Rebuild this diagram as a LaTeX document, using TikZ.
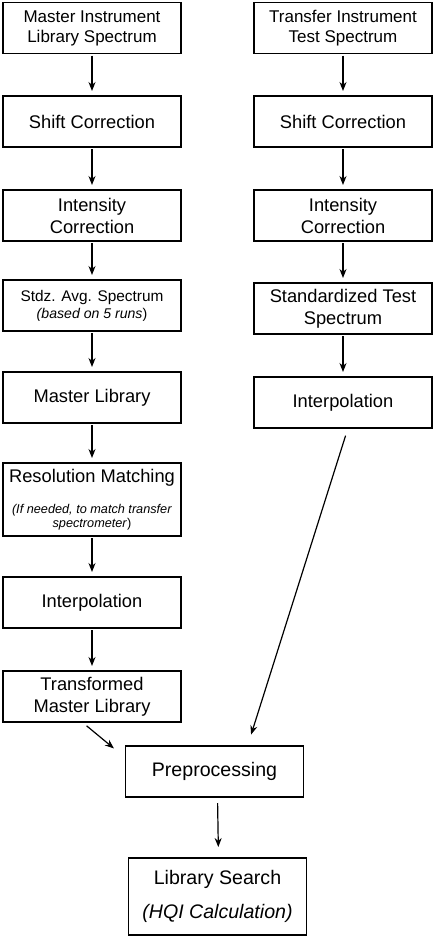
\documentclass[tikz,border=0pt]{standalone}
\usepackage{fontspec}
\setmainfont{Liberation Sans}
\usetikzlibrary{positioning,arrows.meta}

\begin{document}
\begin{tikzpicture}

  % Definitions
  \tikzstyle{Process} = [rectangle, minimum width=178pt, minimum height=51pt, inner sep=2pt, outer sep=0pt, align=center, draw=black, line width=1.1pt, font=\fontsize{18.3pt}{22pt}\selectfont]
  \tikzstyle{arrow} = [line width=1.2pt,-{Stealth[length=9pt,width=7pt]}]

  \useasboundingbox (0,0) rectangle (435pt,-938pt);

  % master side
  \node (MSpec) [Process, font=\fontsize{17pt}{20pt}\selectfont] at (92pt,-28pt) {Master Instrument\\Library Spectrum};
  \node (MShift) [Process, below=42.5pt of MSpec] {Shift Correction};
  \node (MInt) [Process, below=43pt of MShift] {Intensity\\Correction};
  \node (MStdz) [Process, below=39pt of MInt, font=\fontsize{15.4pt}{17pt}\selectfont] {Stdz. Avg. Spectrum\\{\fontsize{14.1pt}{17pt}\selectfont\textit{(based on 5 runs})}};
  \node (MLib) [Process, below=41pt of MStdz] {Master Library};
  \node (MRes) [Process, below=40pt of MLib, minimum height=73pt, font=\fontsize{18.3pt}{14pt}\selectfont] {Resolution Matching\\[17pt]{\fontsize{12.7pt}{14pt}\selectfont\textit{(If needed, to match transfer}}\\{\fontsize{12.7pt}{14pt}\selectfont\textit{spectrometer})}};
  \node (MInterp) [Process, below=41pt of MRes] {Interpolation};
  \node (MTrans) [Process, below=43pt of MInterp] {Transformed\\Master Library};

  % transfer side
  \node (TSpec) [Process, right=73pt of MSpec, font=\fontsize{17pt}{20pt}\selectfont] {Transfer Instrument\\Test Spectrum};
  \node (TShift) [Process, below=42.5pt of TSpec] {Shift Correction};
  \node (TInt) [Process, below=43pt of TShift] {Intensity\\Correction};
  \node (TStd) [Process, below=42pt of TInt] {Standardized Test\\Spectrum};
  \node (TInterp) [Process, below=43pt of TStd] {Interpolation};

  % common part
  \node (Pre) [Process, below=24pt of MTrans, xshift=122.5pt, font=\fontsize{19.6pt}{23pt}\selectfont] {Preprocessing};
  \node (Search) [Process, below=61pt of Pre, xshift=3pt, minimum height=77pt, font=\fontsize{19.6pt}{23pt}\selectfont] {Library Search\\[11pt]\textit{(HQI Calculation)}};

  \draw [arrow, shorten <=2pt, shorten >=5pt] (MSpec) -- (MShift);
  \draw [arrow, shorten <=2pt, shorten >=5pt] (MShift) -- (MInt);
  \draw [arrow, shorten <=2pt, shorten >=5pt] (MInt) -- (MStdz);
  \draw [arrow, shorten <=2pt, shorten >=5pt] (MStdz) -- (MLib);
  \draw [arrow, shorten <=2pt, shorten >=5pt] (MLib) -- (MRes);
  \draw [arrow, shorten <=2pt, shorten >=5pt] (MRes) -- (MInterp);
  \draw [arrow, shorten <=2pt, shorten >=5pt] (MInterp) -- (MTrans);

  \draw [arrow, shorten <=2pt, shorten >=5pt] (TSpec) -- (TShift);
  \draw [arrow, shorten <=2pt, shorten >=5pt] (TShift) -- (TInt);
  \draw [arrow, shorten <=2pt, shorten >=5pt] (TInt) -- (TStd);
  \draw [arrow, shorten <=2pt, shorten >=5pt] (TStd) -- (TInterp);

  \draw [arrow, shorten <=8pt, shorten >=12pt] ([xshift=5pt]TInterp.south) -- ([xshift=33pt]Pre.north);
  \draw [arrow, shorten <=6pt, shorten >=15pt] ([xshift=-10pt]MTrans.south) -- ([yshift=-12pt]Pre.north west);
  \draw [arrow, shorten <=6pt, shorten >=11pt] ([xshift=3pt]Pre.south) -- ([xshift=1pt]Search.north);

\end{tikzpicture}
\end{document}
